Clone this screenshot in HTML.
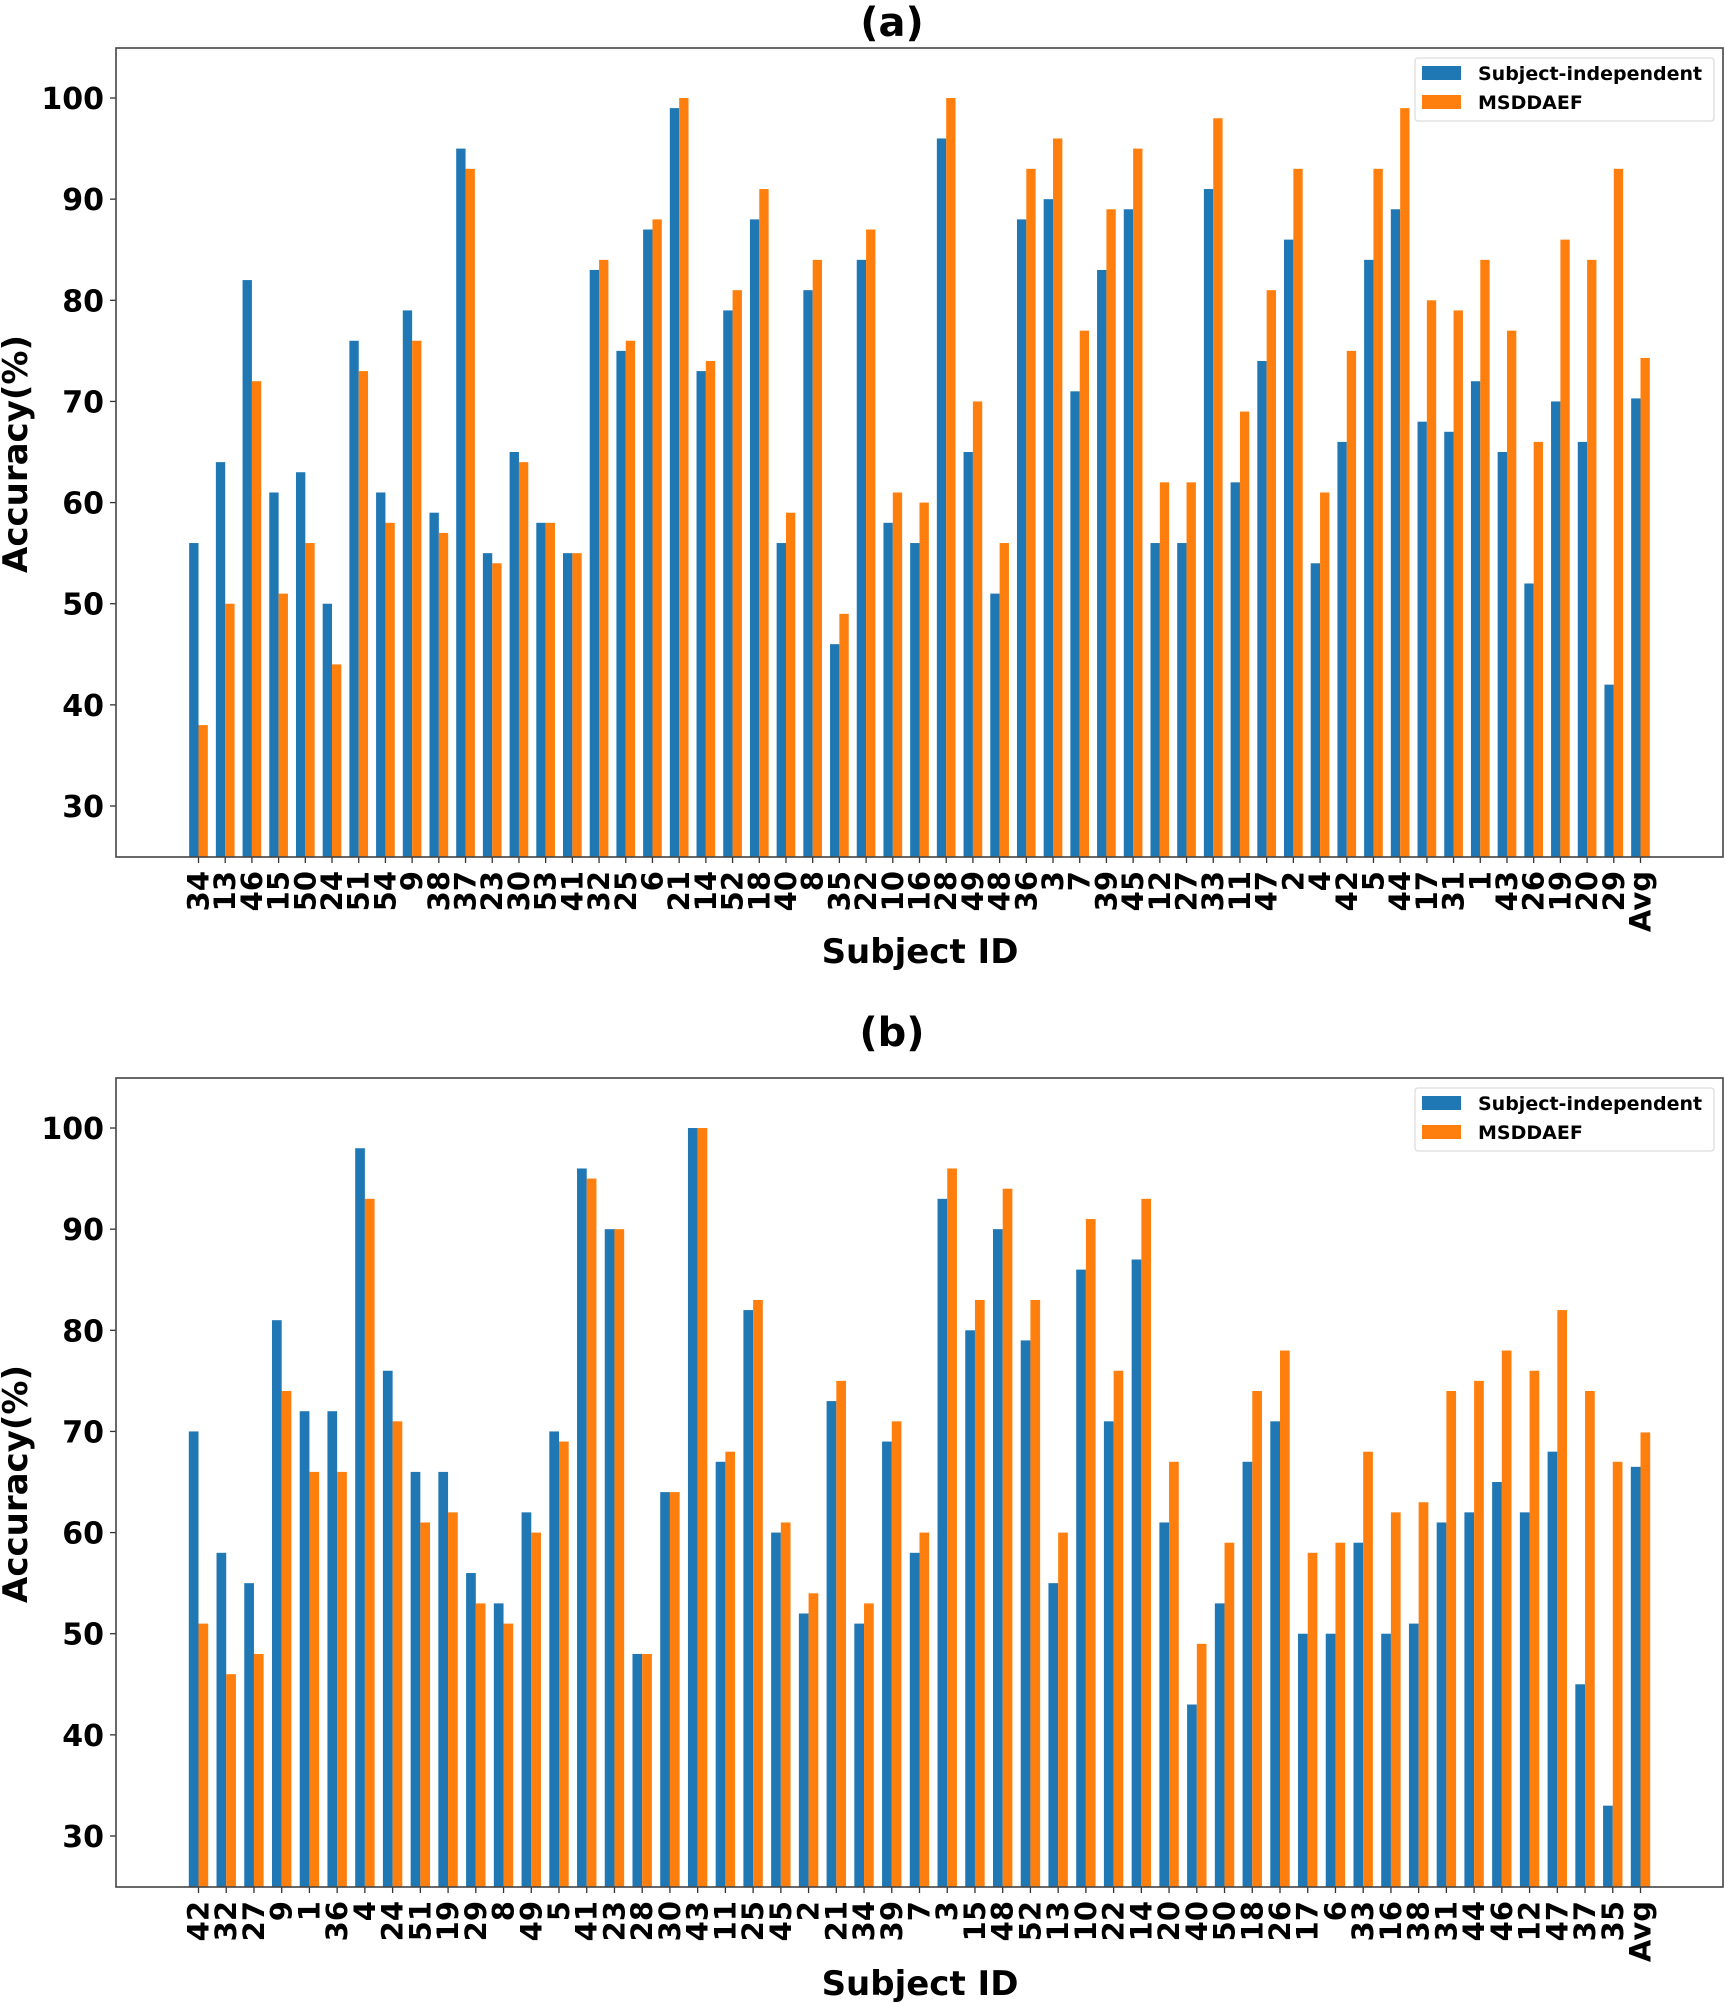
<!DOCTYPE html>
<html><head><meta charset="utf-8"><style>
html,body{margin:0;padding:0;background:#fff;}
svg{display:block;font-family:"DejaVu Sans","Liberation Sans",sans-serif;font-weight:bold;}
</style></head><body>
<svg id="s" width="1725" height="2003" viewBox="0 0 1725 2003" xmlns="http://www.w3.org/2000/svg">
<text x="892" y="36" font-size="40" text-anchor="middle">(a)</text>
<text x="892" y="1046" font-size="40" text-anchor="middle">(b)</text>
<text x="920" y="963" font-size="34" text-anchor="middle">Subject ID</text>
<text x="920" y="1995" font-size="34" text-anchor="middle">Subject ID</text>
<text transform="translate(27,454) rotate(-90)" font-size="34" text-anchor="middle">Accuracy(%)</text>
<text transform="translate(27,1484) rotate(-90)" font-size="34" text-anchor="middle">Accuracy(%)</text>
</svg>
<script>
var NS="http://www.w3.org/2000/svg",s=document.getElementById('s');
function el(t,a,txt){var e=document.createElementNS(NS,t);for(var k in a)e.setAttribute(k,a[k]);if(txt!=null)e.textContent=txt;s.appendChild(e);return e;}
var A=[["34",56,38],["13",64,50],["46",82,72],["15",61,51],["50",63,56],["24",50,44],["51",76,73],["54",61,58],["9",79,76],["38",59,57],["37",95,93],["23",55,54],["30",65,64],["53",58,58],["41",55,55],["32",83,84],["25",75,76],["6",87,88],["21",99,100],["14",73,74],["52",79,81],["18",88,91],["40",56,59],["8",81,84],["35",46,49],["22",84,87],["10",58,61],["16",56,60],["28",96,100],["49",65,70],["48",51,56],["36",88,93],["3",90,96],["7",71,77],["39",83,89],["45",89,95],["12",56,62],["27",56,62],["33",91,98],["11",62,69],["47",74,81],["2",86,93],["4",54,61],["42",66,75],["5",84,93],["44",89,99],["17",68,80],["31",67,79],["1",72,84],["43",65,77],["26",52,66],["19",70,86],["20",66,84],["29",42,93],["Avg",70.3,74.3]];
var B=[["42",70,51],["32",58,46],["27",55,48],["9",81,74],["1",72,66],["36",72,66],["4",98,93],["24",76,71],["51",66,61],["19",66,62],["29",56,53],["8",53,51],["49",62,60],["5",70,69],["41",96,95],["23",90,90],["28",48,48],["30",64,64],["43",100,100],["11",67,68],["25",82,83],["45",60,61],["2",52,54],["21",73,75],["34",51,53],["39",69,71],["7",58,60],["3",93,96],["15",80,83],["48",90,94],["52",79,83],["13",55,60],["10",86,91],["22",71,76],["14",87,93],["20",61,67],["40",43,49],["50",53,59],["18",67,74],["26",71,78],["17",50,58],["6",50,59],["33",59,68],["16",50,62],["38",51,63],["31",61,74],["44",62,75],["46",65,78],["12",62,76],["47",68,82],["37",45,74],["35",33,67],["Avg",66.5,69.9]];
function panel(D,off){
 var L=116,R=1723,T=48+off,Bt=857+off;
 function y(v){return 806+off-(v-30)*10.114;}
 var n=D.length,x0=198.5,x1=1640.5,sp=(x1-x0)/(n-1),w=sp*0.35;
 D.forEach(function(d,i){
  var x=x0+i*sp;
  el('rect',{x:x-w,y:y(d[1]),width:w,height:Bt-y(d[1]),fill:'#1f77b4'});
  el('rect',{x:x,y:y(d[2]),width:w,height:Bt-y(d[2]),fill:'#ff7f0e'});
  el('line',{x1:x,x2:x,y1:Bt,y2:Bt+6,stroke:'#333','stroke-width':1.3});
  el('text',{transform:'translate('+(x+10)+','+(Bt+14)+') rotate(-90)','font-size':29,'text-anchor':'end'},d[0]);
 });
 for(var v=30;v<=100;v+=10){
  el('line',{x1:L-6,x2:L,y1:y(v),y2:y(v),stroke:'#333','stroke-width':1.3});
  el('text',{x:L-12,y:y(v)+11,'font-size':30,'text-anchor':'end'},String(v));
 }
 el('rect',{x:L,y:T,width:R-L,height:Bt-T,fill:'none',stroke:'#444','stroke-width':1.6});
 el('rect',{x:1415,y:58+off,width:299,height:63,rx:3,fill:'#fff','fill-opacity':0.8,stroke:'#ddd','stroke-width':1.3});
 el('rect',{x:1422,y:66+off,width:39,height:14,fill:'#1f77b4'});
 el('rect',{x:1422,y:95+off,width:39,height:14,fill:'#ff7f0e'});
 el('text',{x:1478,y:80+off,'font-size':19},'Subject-independent');
 el('text',{x:1478,y:109+off,'font-size':19},'MSDDAEF');
}
panel(A,0);panel(B,1030);
</script>
</body></html>
